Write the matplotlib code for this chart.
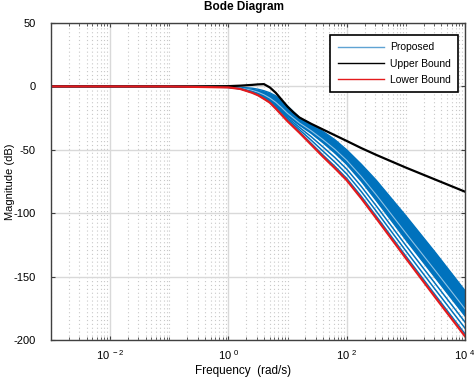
import matplotlib
matplotlib.use("Agg")
import matplotlib.pyplot as plt
from matplotlib.ticker import LogLocator, FixedLocator, NullFormatter

plt.rcParams['font.family'] = ['Liberation Sans', 'DejaVu Sans']
plt.rcParams['mathtext.default'] = 'regular'

# --- data (frequency in rad/s, magnitude in dB) ---
freq = [0.001, 0.1, 1.0, 1.585, 2.512, 3.162, 3.981, 5.012, 6.31, 7.943,
        10.0, 12.59, 15.85, 25.12, 39.81, 63.1, 100.0, 177.8, 316.2, 1000.0, 3162.0, 10000.0]

upper_bound = [0, 0, 0.2, 0.6, 1.2, 1.6, 1.8, -0.8, -5, -10.5,
               -16, -20.5, -24.5, -29.5, -34, -38.5, -43, -48.7, -54, -64, -73.5, -83]
lower_bound = [0, -0.05, -0.8, -2, -5, -7, -9.8, -12.8, -17.5, -22.5,
               -27.5, -32, -36.5, -46, -55.5, -64.5, -74, -88.5, -104, -135.5, -166.5, -197]

# proposed family: dense band edges, a lighter curve inside it, and three loose curves below
band_top = [0, 0, -0.2, -0.6, -1.4, -2.2, -3.4, -5, -7.5, -11,
            -15.5, -20, -24.5, -29.8, -35.5, -42, -50, -61.5, -74, -102, -131, -161]
band_bottom = [0, -0.05, -0.6, -1.6, -3.8, -5.5, -7.8, -10.8, -14.5, -19,
               -23.5, -27, -30.5, -37, -44.5, -52.5, -61.5, -75, -90, -121, -151, -181]
band_light = [0, -0.04, -0.49, -1.32, -3.13, -4.58, -6.57, -9.18, -12.54, -16.76,
              -21.26, -25.04, -28.82, -34.98, -41.98, -49.56, -58.28, -71.22, -85.52, -115.68, -145.4, -175.4]
proposed_1 = [0, -0.05, -0.66, -1.72, -4.16, -5.95, -8.4, -11.4, -15.4, -20.05,
              -24.7, -28.5, -32.3, -39.7, -47.8, -56.1, -65.25, -79.05, -94.2, -125.35, -155.65, -185.8]
proposed_2 = [0, -0.05, -0.72, -1.84, -4.52, -6.4, -9, -12, -16.3, -21.1,
              -25.9, -30, -34.1, -42.4, -51.1, -59.7, -69, -83.1, -98.4, -129.7, -160.3, -190.6]
proposed_3 = [0, -0.05, -0.78, -1.95, -4.86, -6.82, -9.56, -12.56, -17.14, -22.08,
              -27.02, -31.4, -35.78, -44.92, -54.18, -63.06, -72.5, -86.88, -102.32, -133.76, -164.64, -195.08]

x_ticks = [1e-2, 1e0, 1e2, 1e4]
x_labels = ['$10^{\\ -2}$', '$10^{\\ 0}$', '$10^{\\ 2}$', '$10^{\\ 4}$']
y_ticks = [-200, -150, -100, -50, 0, 50]

blue = '#0072BD'
light_blue = '#8ec3e6'

fig = plt.figure(figsize=(4.74, 3.8), dpi=100)
ax = fig.add_axes([0.1076, 0.105, 0.8734, 0.8345])

ax.fill_between(freq, band_bottom, band_top, color=blue, lw=0)
ax.plot(freq, band_top, color=blue, lw=1.0, label='Proposed')
ax.plot(freq, band_bottom, color=blue, lw=1.0)
ax.plot(freq, band_light, color=light_blue, lw=0.8)
for curve in (proposed_1, proposed_2, proposed_3):
    ax.plot(freq, curve, color=blue, lw=1.1)
ax.plot(freq, upper_bound, color='black', lw=1.6, label='Upper Bound')
ax.plot(freq, lower_bound, color='#e41a1c', lw=1.6, label='Lower Bound')

ax.set_xscale('log')
ax.set_xlim(1e-3, 1e4)
ax.set_ylim(-200, 50)
ax.xaxis.set_major_locator(FixedLocator(x_ticks))
ax.set_xticklabels(x_labels)
ax.xaxis.set_minor_locator(LogLocator(base=10, subs=[1, 2, 3, 4, 5, 6, 7, 8, 9], numticks=20))
ax.xaxis.set_minor_formatter(NullFormatter())
ax.set_yticks(y_ticks)
ax.set_yticklabels([str(v) for v in y_ticks])

ax.grid(True, which='major', color='#d9d9d9', lw=1.0)
ax.grid(True, which='minor', axis='x', color='#c8c8c8', lw=0.8, linestyle=(0, (1, 2.5)))
ax.set_axisbelow(True)

ax.tick_params(which='both', direction='in', top=True, right=True, labelsize=8,
               color='#404040')
ax.tick_params(axis='y', pad=11)
ax.tick_params(axis='x', pad=6)
ax.tick_params(which='major', length=3)
ax.tick_params(which='minor', length=2)
for s in ax.spines.values():
    s.set_color('#404040')
    s.set_linewidth(1.0)

ax.set_title('Bode Diagram', fontsize=8.5, fontweight='bold', pad=9, x=0.466)
ax.set_xlabel('Frequency  (rad/s)', fontsize=8.5, labelpad=2, x=0.463)
ax.set_ylabel('Magnitude (dB)', fontsize=8)
ax.yaxis.set_label_coords(-0.088, 0.5)

leg = ax.legend(loc='upper right', bbox_to_anchor=(0.983, 0.962), borderaxespad=0,
                fontsize=7.5, fancybox=False, framealpha=1, edgecolor='black',
                handlelength=4.4, handletextpad=0.6, borderpad=0.7, labelspacing=0.6)
leg.get_frame().set_linewidth(1.2)
for h in leg.get_lines():
    h.set_linewidth(1.0)
leg.get_lines()[0].set_color('#5fa3d3')

fig.savefig('out.png', dpi=100)
